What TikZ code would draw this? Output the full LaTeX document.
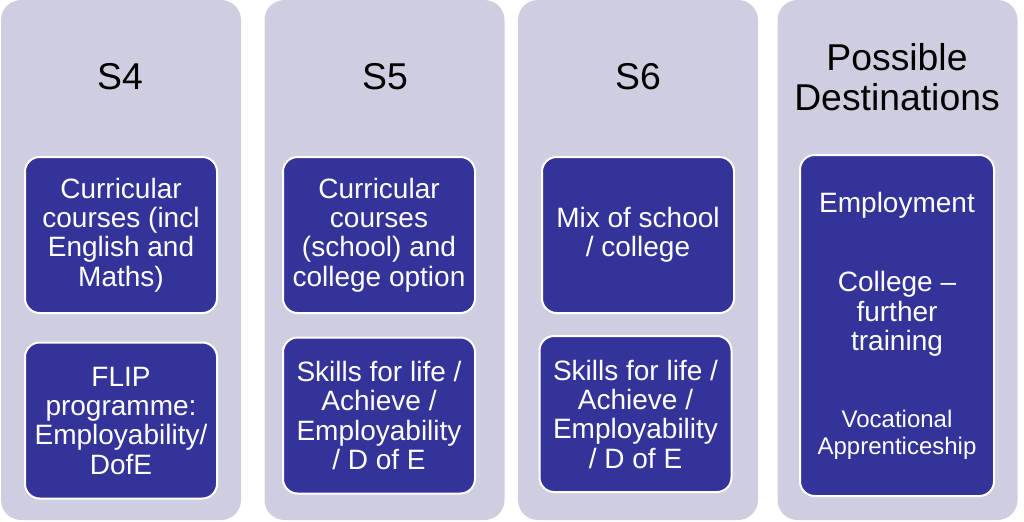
\documentclass[tikz,border=0pt]{standalone}
\usepackage{fontspec}
\setmainfont{Liberation Sans}
\definecolor{lavender}{RGB}{207,206,224}
\definecolor{navy}{RGB}{51,51,153}

\begin{document}
\begin{tikzpicture}[x=0.75pt,y=-0.75pt,
    column/.style={fill=lavender, rounded corners=15pt, minimum width=180pt, minimum height=390pt, inner sep=0pt},
    heading/.style={font=\fontsize{28}{30}\selectfont, align=center},
    stagebox/.style={fill=navy, draw=white, line width=1.5pt, rounded corners=11pt, minimum width=144pt, minimum height=117pt, inner sep=0pt, text=white, align=center, font=\fontsize{21}{22}\selectfont},
    desttext/.style={text=white, align=center, font=\fontsize{21}{22}\selectfont}]
                \useasboundingbox (0,0) rectangle (1024,521);

                % columns
                \node[column] (s4col) at (121,260) {};
                \node[column] (s5col) at (384.5,260) {};
                \node[column] (s6col) at (638,260) {};
                \node[column] (destcol) at (897.5,260) {};

                \node[heading] (s4) at (120,77) {S4};
                \node[heading] (s5) at (385,77) {S5};
                \node[heading] (s6) at (638,77) {S6};
                \node[heading] (dest) at (897,77) {Possible\\Destinations};

                % S4
                \node[stagebox] (s4top) at (121,235) {Curricular\\courses (incl\\English and\\Maths)};
                \node[stagebox] (s4low) at (121,420.5) {FLIP\\programme:\\Employability/\\DofE};

                % S5
                \node[stagebox] (s5top) at (379,235) {Curricular\\courses\\(school) and\\college option};
                \node[stagebox] (s5low) at (379,415.5) {Skills for life /\\Achieve /\\Employability\\/ D of E};

                % S6
                \node[stagebox] (s6top) at (638,235) {Mix of school\\/ college};
                \node[stagebox] (s6low) at (635.5,414) {Skills for life /\\Achieve /\\Employability\\/ D of E};

                % destinations
                \node[stagebox, minimum width=145.5pt, minimum height=255.75pt] (destbox) at (897,325.5) {};
                \node[desttext] (employ) at (897,205) {Employment};
                \node[desttext] (college) at (897,314) {College --\\further\\training};
                \node[desttext, font=\fontsize{18}{20}\selectfont] (vocat) at (897,435) {Vocational\\Apprenticeship};
            \end{tikzpicture}
\end{document}
